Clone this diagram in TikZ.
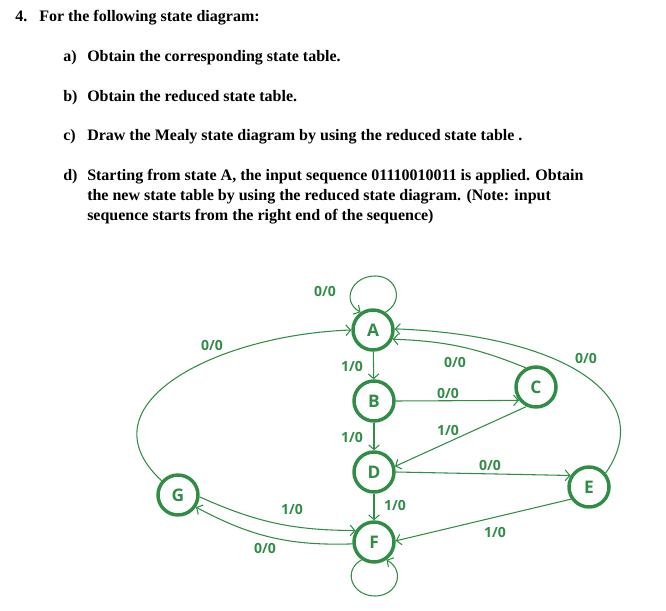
\documentclass[tikz,border=0pt]{standalone}
\usepackage{fontspec}
\setmainfont{Liberation Serif}
\newfontfamily\diagfont{Open Sans}
\usepackage{xcolor}
\usetikzlibrary{arrows.meta}
\definecolor{stategreen}{HTML}{2F8D46}

\begin{document}
\begin{tikzpicture}[x=0.75pt, y=0.75pt,
        txt/.style={anchor=base west, inner sep=0pt, font=\fontsize{12}{13}\selectfont\bfseries},
        state/.style={circle, draw=stategreen, line width=2.6pt, minimum size=30pt, inner sep=0pt,
            text=stategreen, font=\diagfont\bfseries\fontsize{13}{14}\selectfont},
        edge/.style={stategreen, line width=0.8pt, -{Straight Barb[length=3.5pt, width=8pt]}},
        lbl/.style={text=stategreen, inner sep=1.5pt, font=\diagfont\bfseries\fontsize{10.5}{12}\selectfont}]
        \useasboundingbox (0,0) rectangle (666,610);

        % question text
        \node [txt] (qnum) at (15,588) {4.};
        \node [txt] (qhead) at (39,588) {For the following state diagram:};
        \node [txt] (pa) at (63,548) {a)};
        \node [txt] (ta) at (87,548) {Obtain the corresponding state table.};
        \node [txt] (pb) at (63,508) {b)};
        \node [txt] (tb) at (87,508) {Obtain the reduced state table.};
        \node [txt] (pc) at (63,469) {c)};
        \node [txt] (tc) at (87,469) {Draw the Mealy state diagram by using the reduced state table .};
        \node [txt] (pd) at (63,429) {d)};
        \node [txt] (td1) at (87,429) {Starting from state A, the input sequence 01110010011 is applied. Obtain};
        \node [txt] (td2) at (87,409) {the new state table by using the reduced state diagram. (Note: input};
        \node [txt] (td3) at (87,389) {sequence starts from the right end of the sequence)};

        % states
        \node [state] (A) at (373,280) {A};
        \node [state] (B) at (374,209) {B};
        \node [state] (D) at (374,138) {D};
        \node [state] (F) at (374,68) {F};
        \node [state] (G) at (178,115) {G};
        \node [state] (C) at (536,223) {C};
        \node [state] (E) at (589,123) {E};
        \coordinate (Atop) at (375,334);
        \coordinate (Fbot) at (375,14);

        % transitions
        \draw [edge] (A.55) to [out=30, in=0, looseness=1.5] (Atop) to [out=180, in=150, looseness=1.5] (A.125);
        \draw [edge] (F.-125) to [out=-150, in=180, looseness=1.5] (Fbot) to [out=0, in=-30, looseness=1.5] (F.-55);
        \draw [edge] (A) to (B);
        \draw [edge] (B) to (D);
        \draw [edge] (D) to (F);
        \draw [edge] (B.east) to (C.218);
        \draw [edge] (C.244) to (D.15);
        \draw [edge] (C.118) to [bend right=10] (A.-25);
        \draw [edge] (E.40) .. controls (660,215) and (560,275) .. (A.3);
        \draw [edge] (D.east) to (E.148);
        \draw [edge] (E.214) to (F.3);
        \draw [edge] (G.139) .. controls (80,205) and (215,275) .. (A.180);
        \draw [edge] (G.-5) to [bend right=12] (F.148);
        \draw [edge] (F.185) to [bend left=15] (G.-34);

        % labels
        \node [lbl] (lAA) at (325,319) {0/0};
        \node [lbl] (lAB) at (352,244) {1/0};
        \node [lbl] (lBD) at (352,173) {1/0};
        \node [lbl] (lDF) at (395,105) {1/0};
        \node [lbl] (lBC) at (448,217) {0/0};
        \node [lbl] (lCD) at (448,180) {1/0};
        \node [lbl] (lCA) at (455,248) {0/0};
        \node [lbl] (lEA) at (586,252) {0/0};
        \node [lbl] (lDE) at (490,145) {0/0};
        \node [lbl] (lEF) at (495,78) {1/0};
        \node [lbl] (lGA) at (212,265) {0/0};
        \node [lbl] (lGF) at (292,101) {1/0};
        \node [lbl] (lFG) at (265,62) {0/0};
\end{tikzpicture}
\end{document}
